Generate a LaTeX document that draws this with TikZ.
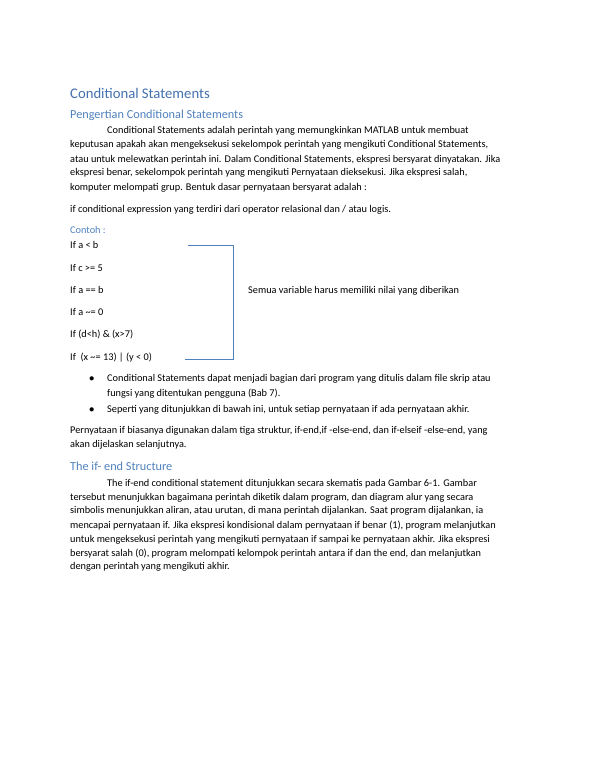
\documentclass[tikz,border=0pt]{standalone}
\usepackage{fontspec}
\setmainfont{Carlito}
\definecolor{head}{RGB}{79,129,189}
\definecolor{title}{RGB}{68,114,176}
\begin{document}
\begin{tikzpicture}[x=1.02pt,y=-1.02pt,
  txt/.style={anchor=base west,inner sep=0pt,font=\fontsize{10.5}{12}\selectfont},
  h1/.style={anchor=base west,inner sep=0pt,text=title,font=\fontsize{15}{18}\selectfont},
  h2/.style={anchor=base west,inner sep=0pt,text=head,font=\fontsize{12.5}{15}\selectfont},
  h3/.style={anchor=base west,inner sep=0pt,text=head,font=\fontsize{10.5}{12}\selectfont},
  brk/.style={draw=head,line width=0.8pt}]
\useasboundingbox[fill=white] (0,0) rectangle (600,776);
\node[h1] (t1) at (70,98) {Conditional Statements};
\node[h2] (t2) at (70,118) {Pengertian Conditional Statements};
\node[txt] (p1) at (107,133) {Conditional Statements adalah perintah yang memungkinkan MATLAB untuk membuat};
\node[txt] (p2) at (70,147) {keputusan apakah akan mengeksekusi sekelompok perintah yang mengikuti Conditional Statements,};
\node[txt] (p3) at (70,162) {atau untuk melewatkan perintah ini. Dalam Conditional Statements, ekspresi bersyarat dinyatakan. Jika};
\node[txt] (p4) at (70,175.5) {ekspresi benar, sekelompok perintah yang mengikuti Pernyataan dieksekusi. Jika ekspresi salah,};
\node[txt] (p5) at (70,190) {komputer melompati grup. Bentuk dasar pernyataan bersyarat adalah :};
\node[txt] (p6) at (70,212) {if conditional expression yang terdiri dari operator relasional dan / atau logis.};
\node[h3] (c0) at (70,233) {Contoh :};
\node[txt] (c1) at (70,248) {If a < b};
\node[txt] (c2) at (70,271) {If c >= 5};
\node[txt] (c3) at (70,293) {If a == b};
\node[txt] (c4) at (70,315) {If a \textasciitilde= 0};
\node[txt] (c5) at (70,337) {If (d<h) \& (x>7)};
\node[txt] (c6) at (70,360) {If~~(x \textasciitilde= 13) | (y < 0)};
\coordinate (b1) at (188,245);
\coordinate (b2) at (233,245);
\coordinate (b3) at (233,359);
\coordinate (b4) at (185,359);
\draw[brk] (b1) -- (b2) -- (b3) -- (b4);
\node[txt] (sv) at (248,293) {Semua variable harus memiliki nilai yang diberikan};
\node[txt] (d1) at (89,381) {$\bullet$};
\node[txt] (l1) at (107,381) {Conditional Statements dapat menjadi bagian dari program yang ditulis dalam file skrip atau};
\node[txt] (l1b) at (107,396) {fungsi yang ditentukan pengguna (Bab 7).};
\node[txt] (d2) at (89,412) {$\bullet$};
\node[txt] (l2) at (107,412) {Seperti yang ditunjukkan di bawah ini, untuk setiap pernyataan if ada pernyataan akhir.};
\node[txt] (q1) at (70,433) {Pernyataan if biasanya digunakan dalam tiga struktur, if-end,if -else-end, dan if-elseif -else-end, yang};
\node[txt] (q2) at (70,447) {akan dijelaskan selanjutnya.};
\node[h2] (t3) at (70,470.5) {The if- end Structure};
\node[txt] (r1) at (107,486) {The if-end conditional statement ditunjukkan secara skematis pada Gambar 6-1. Gambar};
\node[txt] (r2) at (70,500) {tersebut menunjukkan bagaimana perintah diketik dalam program, dan diagram alur yang secara};
\node[txt] (r3) at (70,513.5) {simbolis menunjukkan aliran, atau urutan, di mana perintah dijalankan. Saat program dijalankan, ia};
\node[txt] (r4) at (70,528) {mencapai pernyataan if. Jika ekspresi kondisional dalam pernyataan if benar (1), program melanjutkan};
\node[txt] (r5) at (70,542) {untuk mengeksekusi perintah yang mengikuti pernyataan if sampai ke pernyataan akhir. Jika ekspresi};
\node[txt] (r6) at (70,556) {bersyarat salah (0), program melompati kelompok perintah antara if dan the end, dan melanjutkan};
\node[txt] (r7) at (70,569.5) {dengan perintah yang mengikuti akhir.};
\end{tikzpicture}
\end{document}
